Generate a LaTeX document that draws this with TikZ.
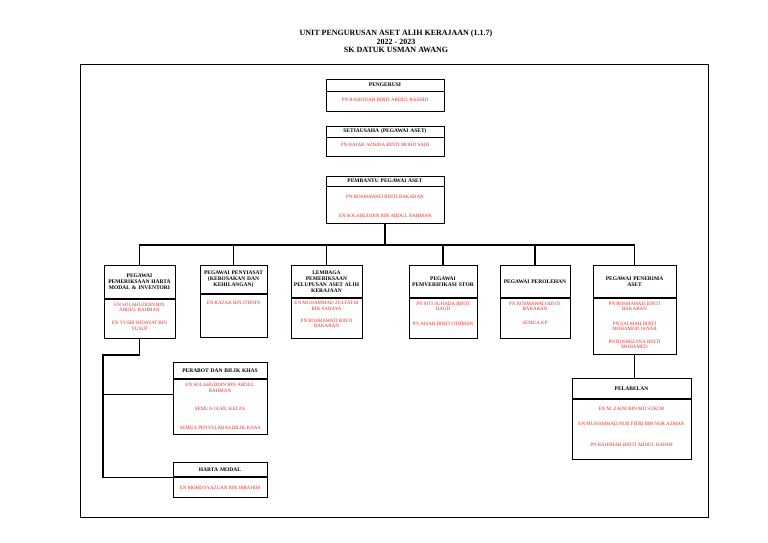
\documentclass[tikz,border=0pt]{standalone}
\usepackage{fontspec}
\setmainfont{Liberation Serif}
\definecolor{nm}{RGB}{230,40,40}
\newcommand{\orgbody}[4]{\parbox[c][#1pt][t]{#2pt}{\centering\fontsize{5}{5.4}\selectfont\color{nm}\vspace*{#3pt}#4\par}}
\begin{document}
\begin{tikzpicture}[x=1pt,y=-1pt,
  hdr/.style={draw, line width=0.8pt, align=center, inner sep=1pt, anchor=north, font=\fontsize{5.5}{6}\selectfont\bfseries},
  bdy/.style={draw, line width=0.8pt, inner sep=0pt, anchor=north},
  conn/.style={line width=1.3pt}]
\useasboundingbox (0,0) rectangle (768,543);
\draw[line width=0.8pt] (80,64) rectangle (708,517);
\node[font=\fontsize{8}{8.6}\selectfont\bfseries, align=center] (title) at (396,41.5)
  {UNIT PENGURUSAN ASET ALIH KERAJAAN (1.1.7)\\2022 - 2023\\SK DATUK USMAN AWANG};
% top chain
\node[hdr, minimum width=118pt, text width=116pt, minimum height=11.5pt] (pgh) at (385,79) {PENGERUSI};
\node[bdy] (pgb) at (pgh.south) {\orgbody{20}{118}{6.3}{PN RASHIDAH BINTI ABDUL RASHID}};
\node[hdr, minimum width=118pt, text width=116pt, minimum height=10.5pt] (sth) at (385,126) {SETIAUSAHA (PEGAWAI ASET)};
\node[bdy] (stb) at (sth.south) {\orgbody{18.5}{118}{5.3}{PN HAJAH AZNIDA BINTI MOHD SAID}};
\node[hdr, minimum width=118pt, text width=116pt, minimum height=9.5pt] (pbh) at (385,176) {PEMBANTU PEGAWAI ASET};
\node[bdy] (pbb) at (pbh.south) {\orgbody{37}{118}{8.3}{PN ROSMAWATI BINTI BAKARAN\\[13.6pt]EN SOLAHUDDIN BIN ABDUL RAHMAN}};
% middle row
\node[hdr, minimum width=71pt, text width=69pt, minimum height=33pt] (m1h) at (139.5,265) {PEGAWAI\\PEMERIKSAAN HARTA\\MODAL \& INVENTORI};
\node[bdy] (m1b) at (m1h.south) {\orgbody{39}{71}{3.8}{EN SOLAHUDDIN BIN\\ABDUL RAHMAN\\[7.6pt]EN YUSRI HIDAYAT BIN\\YUSUP}};
\node[hdr, minimum width=67pt, text width=65pt, minimum height=28pt] (m2h) at (233.5,265) {PEGAWAI PENYIASAT\\(KEROSAKAN DAN\\KEHILANGAN)};
\node[bdy] (m2b) at (m2h.south) {\orgbody{43}{67}{7.3}{EN RAZAK BIN ITHNIN}};
\node[hdr, minimum width=71pt, text width=69pt, minimum height=32pt] (m3h) at (326.5,265) {LEMBAGA\\PEMERIKSAAN\\PELUPUSAN ASET ALIH\\KERAJAAN};
\node[bdy] (m3b) at (m3h.south) {\orgbody{40}{71}{3.3}{EN MUHAMMAD ZULFATHI\\BIN YAHAYA\\[6.9pt]PN ROSMAWATI BINTI\\BAKARAN}};
\node[hdr, minimum width=68pt, text width=66pt, minimum height=32pt] (m4h) at (443,265) {PEGAWAI\\PEMVERIFIKASI STOR};
\node[bdy] (m4b) at (m4h.south) {\orgbody{40}{68}{4}{PN SITI SUHADA BINTI\\DAUD\\[9.6pt]PN AISAH BINTI OTHMAN}};
\node[hdr, minimum width=70pt, text width=68pt, minimum height=32pt] (m5h) at (535,265) {PEGAWAI PEROLEHAN};
\node[bdy] (m5b) at (m5h.south) {\orgbody{40}{70}{4}{PN ROSMAWATI BINTI\\BAKARAN\\[8.3pt]SEMUA KP}};
\node[hdr, minimum width=83pt, text width=81pt, minimum height=32pt] (m6h) at (634.5,265) {PEGAWAI PENERIMA\\ASET};
\node[bdy] (m6b) at (m6h.south) {\orgbody{56}{83}{3.6}{PN ROSMAWATI BINTI\\BAKARAN\\[9.6pt]PN SALMAH BINTI\\MOHAMOD JANAB\\[6.9pt]PN ROSMIZANA BINTI\\MOHAMED}};
% lower boxes
\node[hdr, minimum width=94pt, text width=92pt, minimum height=16pt] (prh) at (220,362) {PERABOT DAN BILIK KHAS};
\node[bdy] (prb) at (prh.south) {\orgbody{55}{94}{4.3}{EN SOLAHUDDIN BIN ABDUL\\RAHMAN\\[13pt]SEMUA GURU KELAS\\[13.6pt]SEMUA PENYELARAS BILIK KHAS}};
\node[hdr, minimum width=94pt, text width=92pt, minimum height=14pt] (hmh) at (220,462) {HARTA MODAL};
\node[bdy] (hmb) at (hmh.south) {\orgbody{20}{94}{9.3}{EN MOHD SYAZUAN BIN IBRAHIM}};
\node[hdr, minimum width=119pt, text width=117pt, minimum height=20pt] (plh) at (631.5,378) {PELABELAN};
\node[bdy] (plb) at (plh.south) {\orgbody{60}{119}{7.6}{EN M. ZAINI BIN MD SUKOR\\[10pt]EN MUHAMMAD NUR FITRI BIN NOR AZMAN\\[15.2pt]PN RAHIMAH BINTI ABDUL RAHIM}};
% connectors
\coordinate (bus) at (0,245);
\draw[conn] (pbb.south) -- (pbb.south |- bus);
\draw[conn] (m1h.north) -- (m1h.north |- bus) -- (m6h.north |- bus) -- (m6h.north);
\foreach \n in {m2h,m3h,m4h,m5h} \draw[conn] (\n.north) -- (\n.north |- bus);
\draw[conn] (m6b.south) -- (m6b.south |- plh.north);
\coordinate (lft) at (103,355);
\coordinate (j1) at (103,394.3);
\coordinate (j2) at (103,477.5);
\draw[conn] (m1b.south) -- (m1b.south |- lft) -- (lft) -- (j2) -- (j2 -| hmb.west);
\draw[conn] (j1) -- (j1 -| prb.west);
\end{tikzpicture}
\end{document}
